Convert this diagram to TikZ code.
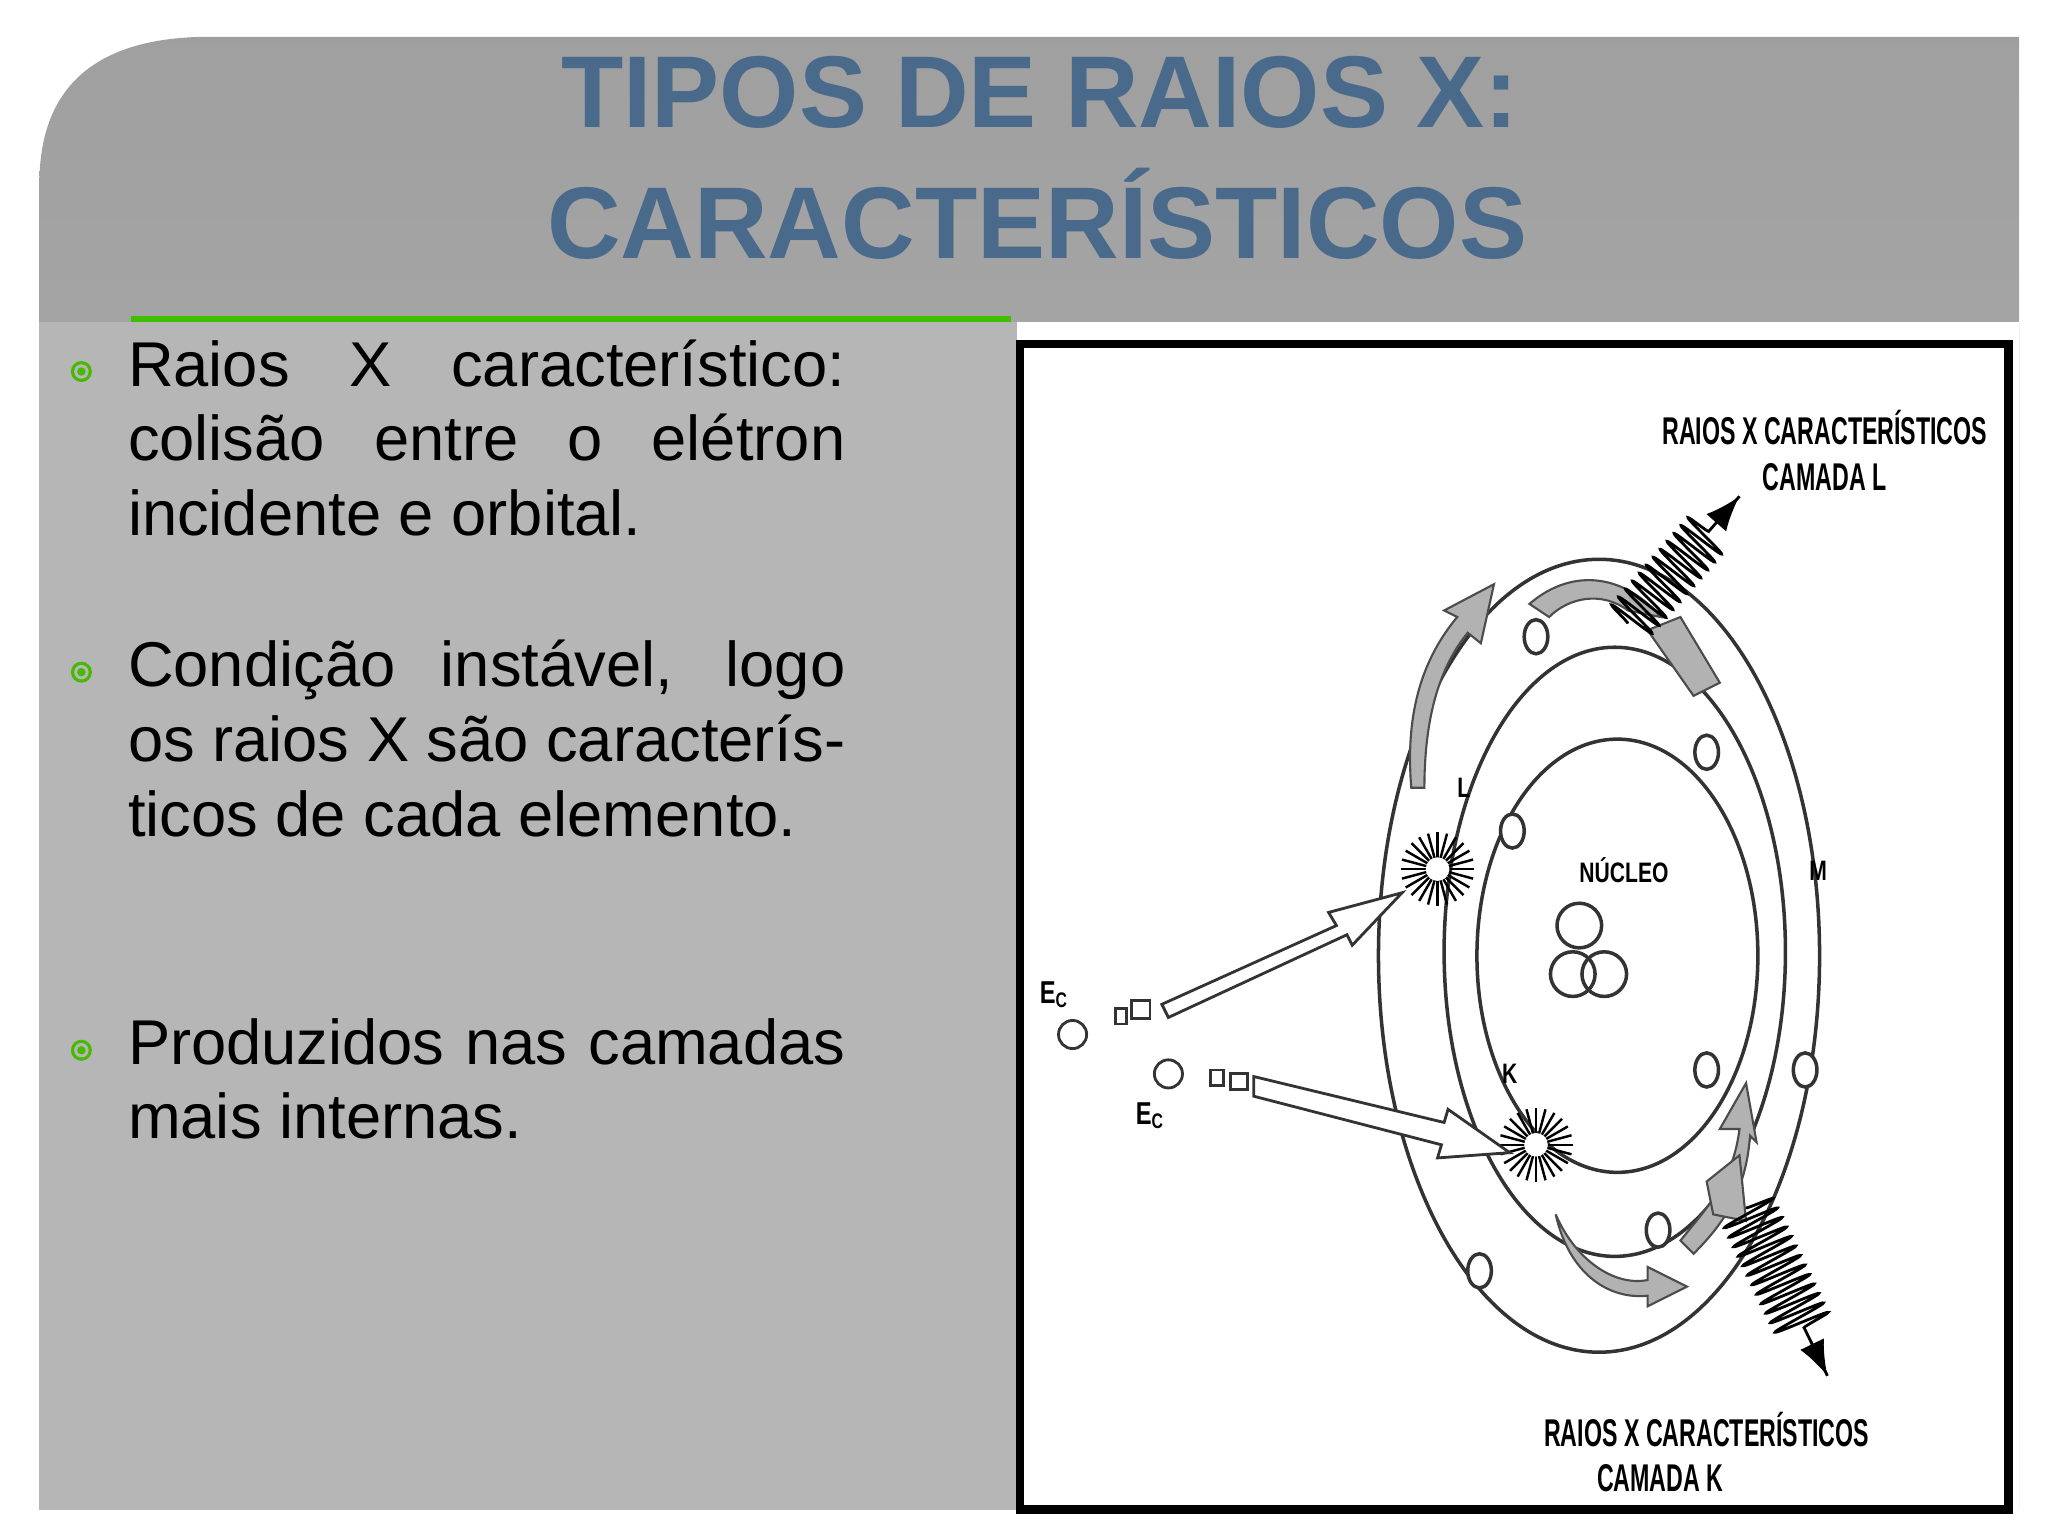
\documentclass[tikz,border=0pt]{standalone}
\usepackage{fontspec}
\setmainfont{Liberation Sans}
\usetikzlibrary{arrows.meta,decorations.pathmorphing,calc}
\definecolor{titleblue}{HTML}{4A6A8C}
\begin{document}
\begin{tikzpicture}[x=0.013128cm,y=-0.013128cm,
  bul/.style={font=\fontsize{18}{21.3}\selectfont,text width=7.17cm,align=justify,anchor=north west,inner sep=0},
  orb/.style={draw=black!80,line width=1pt},
  el/.style={draw=black!80,fill=white,line width=1pt},
  lab/.style={font=\bfseries\fontsize{8}{9}\selectfont,inner sep=0,xscale=0.75},
  hollow/.style={draw=black!80,fill=white,line width=0.8pt},
  gshape/.style={draw=black!70,fill=gray!60,line width=0.6pt},
  ttl/.style={font=\bfseries\fontsize{29}{32}\selectfont,text=titleblue}]
\useasboundingbox (0,0) rectangle (1560,1170);
\fill[white] (0,0) rectangle (1560,1170);
% slide panel
\shade[top color=gray!75,bottom color=gray!55] (30,1150) -- (30,140) .. controls (30,60) and (80,28) .. (160,28) -- (1538,28) -- (1538,1150) -- cycle;
\fill[gray!57] (30,245) rectangle (775,1150);
% title
\node (t1) [ttl] at (792,70) {TIPOS DE RAIOS X:};
\node (t2) [ttl] at (790,163) {CARACTERÍSTICOS};
\draw[green!50!olive,line width=1.5pt] (100,243) -- (770,243);
% bullets
\foreach \y in {283,512,800}{\fill[green!45!olive] (62,\y) circle (8); \fill[gray!57] (62,\y) circle (5.5); \fill[green!45!olive] (62,\y) circle (3.2);}
\node (b1) [bul] at (97,258) {\hyphenpenalty=10000\exhyphenpenalty=10000 Raios X característico: colisão entre o elétron incidente e orbital.};
\node (b2) [bul] at (97,487) {\hyphenpenalty=10000\exhyphenpenalty=10000 Condição instável, logo os raios X são característicos de cada elemento.};
\node (b3) [bul] at (97,775) {\hyphenpenalty=10000 Produzidos nas camadas mais internas.};
% image panel
\fill[white] (775,245) rectangle (1538,1152);
\draw[black,line width=2.5pt] (777,262) rectangle (1530,1150);
% orbits
\draw[orb] (1232,728) ellipse (107 and 165);
\draw[orb] (1230,725) ellipse (130 and 232);
\draw[orb] (1218,728) ellipse (168 and 302);
% nucleus
\draw[orb] (1203,705) circle (17); \draw[orb] (1198,742) circle (17); \draw[orb] (1222,742) circle (17);
\node (nuc) [lab] at (1237,663) {NÚCLEO};
\node (lL) [lab] at (1115,600) {L};
\node (lK) [lab] at (1150,818) {K};
\node (lM) [lab] at (1385,663) {M};
% electrons
\foreach \p in {(1170,485),(1300,573),(1152,633),(1375,815),(1300,815),(1263,937),(1127,968)} \draw[el] \p ellipse (9 and 13);
% curved gray arrows
\draw[gshape] (1165,460) .. controls (1200,430) and (1240,440) .. (1265,470) -- (1240,465) .. controls (1220,450) and (1195,455) .. (1180,470) -- cycle;
\draw[gshape] (1075,600) .. controls (1070,540) and (1085,500) .. (1110,470) -- (1100,465) -- (1138,445) -- (1128,490) -- (1118,482) .. controls (1095,510) and (1085,550) .. (1085,600) -- cycle;
\draw[gshape] (1255,480) -- (1290,530) -- (1310,520) -- (1280,470) -- cycle;
\draw[gshape] (1280,945) .. controls (1300,920) and (1320,900) .. (1325,860) -- (1310,860) -- (1330,825) -- (1338,870) -- (1333,865) .. controls (1330,910) and (1310,935) .. (1290,955) -- cycle;
\draw[gshape] (1185,925) .. controls (1200,960) and (1230,980) .. (1255,975) -- (1255,965) -- (1285,980) -- (1255,995) -- (1255,987) .. controls (1225,990) and (1195,970) .. (1185,925) -- cycle;
\draw[gshape] (1300,900) -- (1325,880) -- (1330,930) -- (1305,925) -- cycle;
% starbursts
\foreach \c in {(1095,662),(1170,872)}{
 \foreach \a in {0,15,...,345}{\draw[black,line width=0.7pt] \c -- ++(\a:28);}
 \fill[white] \c circle (9);}
% incoming electrons
\node (e1) [draw=black!80,circle,minimum size=8pt,inner sep=0,line width=0.8pt] at (817,788) {};
\node (e2) [draw=black!80,circle,minimum size=8pt,inner sep=0,line width=0.8pt] at (890,818) {};
\node (ec1) [lab,font=\bfseries\fontsize{9}{9}\selectfont] at (803,758) {E\textsubscript{C}};
\node (ec2) [lab,font=\bfseries\fontsize{9}{9}\selectfont] at (876,850) {E\textsubscript{C}};
\draw[hollow] (850,768) rectangle (858,780); \draw[hollow] (862,762) rectangle (876,776);
\draw[hollow] (922,815) rectangle (932,827); \draw[hollow] (937,818) rectangle (950,830);
\draw[hollow] (885,765) -- (1018,705) -- (1012,695) -- (1068,680) -- (1030,720) -- (1026,712) -- (890,775) -- cycle;
\draw[hollow] (955,820) -- (1100,855) -- (1103,845) -- (1150,878) -- (1095,882) -- (1098,872) -- (955,835) -- cycle;
% emitted waves
\coordinate (w1a) at (1240,475); \coordinate (w1b) at (1325,378);
\coordinate (w2a) at (1330,920); \coordinate (w2b) at (1392,1048);
\draw[line width=0.8pt,decorate,decoration={snake,segment length=3pt,amplitude=7pt,post length=12pt}] (w1a) -- (w1b);
\draw[-{Latex[length=10]},line width=0.8pt] ($(w1a)!0.8!(w1b)$) -- (w1b);
\draw[line width=0.8pt,decorate,decoration={snake,segment length=3pt,amplitude=8pt,post length=15pt}] (w2a) -- (w2b);
\draw[-{Latex[length=10]},line width=0.8pt] ($(w2a)!0.8!(w2b)$) -- (w2b);
% labels
\node (tl) [lab,align=center,font=\bfseries\fontsize{11}{13}\selectfont,xscale=0.8] at (1390,343) {RAIOS X CARACTERÍSTICOS\\CAMADA L};
\node (tk) [lab,align=center,font=\bfseries\fontsize{11}{13}\selectfont,xscale=0.8] at (1300,1106) {RAIOS X CARACTERÍSTICOS\\\hspace*{-4em}CAMADA K};
\end{tikzpicture}
\end{document}
